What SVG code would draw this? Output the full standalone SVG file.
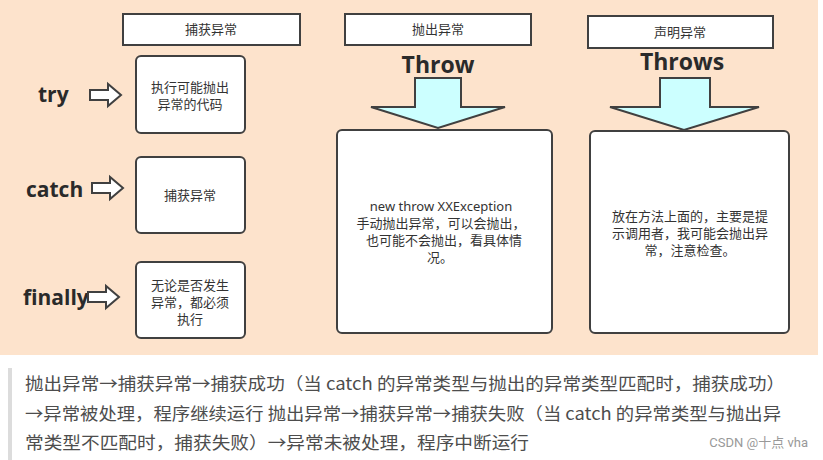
<svg xmlns="http://www.w3.org/2000/svg" width="823" height="460" viewBox="0 0 823 460">
<style>
.box{fill:#fff;stroke:#404040;stroke-width:2}
.hd{fill:#fff;stroke:#404040;stroke-width:2}
.t{font-family:"Noto Sans","Noto Sans CJK SC",sans-serif;font-size:13px;fill:#333;text-anchor:middle}
.kw{font-family:"Open Sans","Noto Sans",sans-serif;font-weight:bold;font-size:21px;fill:#2a2a2a}
.big{font-family:"Open Sans","Noto Sans",sans-serif;font-weight:bold;font-size:23px;fill:#2a2a2a;text-anchor:middle}
.ha{fill:#fff;stroke:#404040;stroke-width:2;stroke-linejoin:miter}
.da{fill:#ccffff;stroke:#404040;stroke-width:2}
.p{font-family:"Noto Sans CJK SC","Noto Sans",sans-serif;font-size:17px;fill:#4d4d4d}
</style>
<rect x="0" y="0" width="818" height="355" fill="#fde3cc"/>
<rect x="0" y="355" width="823" height="105" fill="#fff"/>
<rect x="8" y="368" width="4" height="92" fill="#dcdcdc"/>
<g id="h1"><rect class="hd" x="123" y="14" width="177" height="31"/><text class="t" x="211" y="34">捕获异常</text></g>
<g id="h2"><rect class="hd" x="345" y="14" width="186" height="31"/><text class="t" x="438" y="34">抛出异常</text></g>
<g id="h3"><rect class="hd" x="588" y="16" width="185" height="32"/><text class="t" x="680" y="37">声明异常</text></g>
<g id="try"><text class="kw" x="38" y="102">try</text><rect class="box" x="136" y="56" width="109" height="77" rx="5"/><text class="t" x="190" y="92">执行可能抛出</text><text class="t" x="190" y="109">异常的代码</text></g>
<g id="catch"><text class="kw" x="26" y="197">catch</text><rect class="box" x="136" y="157" width="109" height="76" rx="5"/><text class="t" x="190" y="200">捕获异常</text></g>
<g id="finally"><text class="kw" x="23" y="305">finally</text><rect class="box" x="136" y="262" width="109" height="76" rx="5"/><text class="t" x="190" y="290">无论是否发生</text><text class="t" x="190" y="307">异常，都必须</text><text class="t" x="190" y="324">执行</text></g>
<g id="throw"><text class="big" x="438" y="73">Throw</text><rect class="box" x="337" y="130" width="215" height="203" rx="5"/><text class="t" x="441" y="211">new throw XXException</text><text class="t" x="441" y="228">手动抛出异常，可以会抛出，</text><text class="t" x="444" y="245">也可能不会抛出，看具体情</text><text class="t" x="440" y="262">况。</text></g>
<g id="throws"><text class="big" x="682" y="70">Throws</text><rect class="box" x="590" y="131" width="199" height="202" rx="5"/><text class="t" x="690" y="221">放在方法上面的，主要是提</text><text class="t" x="690" y="238">示调用者，我可能会抛出异</text><text class="t" x="690" y="255">常，注意检查。</text></g>
<g id="connectors">
<path class="ha" d="M90,90 H108 V84 L121,95 L108,106 V100 H90 Z"/>
<path class="ha" d="M92,183 H110 V177 L123,188 L110,199 V193 H92 Z"/>
<path class="ha" d="M88,292 H106 V286 L119,297 L106,308 V302 H88 Z"/>
<path class="da" d="M415,78 H461 V107 H505 L438,128 L371,107 H415 Z"/>
<path class="da" d="M660,78 H710 V107 H759 L684,130 L610,107 H660 Z"/>
</g>
<text class="p" x="25" y="390" textLength="760" lengthAdjust="spacingAndGlyphs">抛出异常→捕获异常→捕获成功（当 catch 的异常类型与抛出的异常类型匹配时，捕获成功）</text>
<text class="p" x="25" y="420" textLength="756" lengthAdjust="spacingAndGlyphs">→异常被处理，程序继续运行 抛出异常→捕获异常→捕获失败（当 catch 的异常类型与抛出异</text>
<text class="p" x="25" y="449" textLength="504" lengthAdjust="spacingAndGlyphs">常类型不匹配时，捕获失败）→异常未被处理，程序中断运行</text>
<text x="808" y="447" text-anchor="end" font-family="Roboto,'Noto Sans CJK SC',sans-serif" font-size="13" fill="#999">CSDN @十点 vha</text>
</svg>
